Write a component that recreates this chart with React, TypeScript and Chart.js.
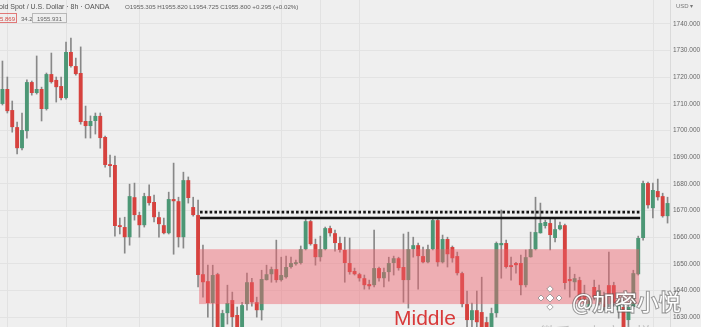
import React, { useEffect, useRef } from 'react';
import { Chart, registerables } from 'chart.js';
Chart.register(...registerables);

// OHLC per 8h candle (XAU/USD)
const opens = [
  1710.0, 1715.6, 1707.7, 1701.3, 1693.4, 1699.8, 1718.2, 1714.1, 1715.6, 1708.1,
  1721.2, 1719.0, 1716.7, 1712.2, 1729.5, 1724.2, 1721.6, 1703.6, 1701.7, 1703.6,
  1705.5, 1697.6, 1687.4, 1687.1, 1664.5, 1663.8, 1660.0, 1675.0, 1668.3, 1664.5,
  1675.4, 1673.2, 1667.5, 1664.5, 1661.5, 1674.3, 1673.5, 1660.0, 1681.4, 1671.3,
  1668.3, 1646.1, 1643.5, 1635.3, 1646.1, 1625.1, 1631.5, 1636.4, 1630.8, 1625.1,
  1634.9, 1643.1, 1635.6, 1632.6, 1643.9, 1646.1, 1648.0, 1643.9, 1645.0, 1648.8,
  1649.9, 1650.3, 1655.5, 1666.0, 1657.4, 1652.5, 1655.5, 1663.4, 1661.5, 1657.8,
  1655.2, 1650.3, 1647.3, 1646.1, 1644.6, 1642.4, 1642.0, 1648.4, 1644.6, 1646.9,
  1650.3, 1652.1, 1648.8, 1643.9, 1655.5, 1657.0, 1652.9, 1650.6, 1655.5, 1666.4,
  1650.6, 1659.3, 1656.3, 1652.9, 1646.5, 1634.9, 1628.9, 1632.6, 1631.9, 1628.1,
  1624.4, 1631.5, 1657.0, 1657.8, 1649.5, 1650.3, 1650.3, 1642.0, 1652.5, 1655.5,
  1661.5, 1664.2, 1665.3, 1659.7, 1663.0, 1664.5, 1644.3, 1643.1, 1643.9, 1638.3,
  1633.8, 1641.3, 1635.6, 1637.5, 1642.0, 1642.0, 1632.6, 1633.8, 1628.9, 1633.8,
  1646.1, 1659.7, 1680.3, 1670.9, 1677.3, 1675.4, 1667.9,
];
const highs = [
  1726.1, 1720.1, 1711.1, 1703.2, 1706.6, 1719.0, 1718.6, 1728.0, 1716.3, 1721.6,
  1729.1, 1720.1, 1720.1, 1733.2, 1734.7, 1727.2, 1731.4, 1709.2, 1705.5, 1706.6,
  1706.6, 1697.9, 1690.8, 1690.4, 1667.2, 1667.5, 1679.9, 1680.3, 1669.4, 1676.5,
  1679.6, 1675.8, 1669.4, 1667.2, 1676.9, 1687.8, 1675.0, 1684.4, 1682.6, 1675.0,
  1673.9, 1657.0, 1649.5, 1649.5, 1646.5, 1632.6, 1642.0, 1639.4, 1633.8, 1635.6,
  1646.5, 1644.6, 1637.5, 1647.6, 1649.5, 1648.8, 1658.9, 1652.5, 1652.9, 1652.5,
  1651.4, 1656.7, 1667.2, 1666.4, 1659.3, 1660.4, 1663.8, 1664.2, 1662.7, 1660.0,
  1660.0, 1659.7, 1648.4, 1646.5, 1645.8, 1643.9, 1662.7, 1648.8, 1648.4, 1652.5,
  1652.9, 1652.5, 1661.2, 1661.9, 1660.0, 1657.8, 1656.3, 1657.0, 1667.2, 1667.2,
  1660.8, 1660.0, 1656.7, 1654.4, 1646.9, 1639.8, 1635.3, 1639.8, 1645.0, 1630.0,
  1633.4, 1658.2, 1670.2, 1658.9, 1652.5, 1650.6, 1653.3, 1655.2, 1661.9, 1675.0,
  1672.8, 1666.4, 1666.8, 1666.8, 1665.7, 1664.9, 1648.8, 1646.1, 1645.0, 1642.0,
  1637.1, 1643.9, 1642.0, 1639.4, 1654.4, 1643.1, 1638.3, 1636.4, 1635.3, 1647.6,
  1660.4, 1681.1, 1680.7, 1680.3, 1681.8, 1676.5, 1675.0,
];
const lows = [
  1709.6, 1706.6, 1699.4, 1691.2, 1692.7, 1697.2, 1713.3, 1713.7, 1703.6, 1707.7,
  1717.8, 1710.7, 1711.5, 1711.8, 1723.8, 1720.8, 1702.4, 1697.2, 1697.2, 1698.7,
  1693.4, 1686.3, 1682.6, 1660.4, 1661.2, 1654.0, 1657.0, 1666.4, 1660.0, 1663.8,
  1672.0, 1665.7, 1660.0, 1661.2, 1661.2, 1653.6, 1656.3, 1655.9, 1672.8, 1667.9,
  1641.3, 1637.5, 1630.0, 1625.1, 1621.0, 1623.0, 1627.4, 1626.2, 1623.0, 1623.0,
  1632.6, 1634.1, 1630.0, 1628.9, 1643.9, 1643.1, 1643.1, 1643.5, 1644.6, 1648.4,
  1649.5, 1649.9, 1655.2, 1657.0, 1649.5, 1651.0, 1655.2, 1660.4, 1654.8, 1654.4,
  1643.1, 1646.1, 1645.8, 1643.5, 1640.5, 1640.5, 1641.3, 1643.5, 1641.3, 1643.5,
  1645.8, 1647.6, 1635.6, 1633.4, 1652.5, 1640.5, 1650.3, 1650.3, 1655.2, 1649.1,
  1650.3, 1648.8, 1650.6, 1645.8, 1633.8, 1626.2, 1626.2, 1625.1, 1622.9, 1622.0,
  1623.0, 1630.0, 1644.6, 1648.4, 1643.9, 1646.5, 1638.3, 1641.3, 1652.5, 1655.2,
  1661.5, 1663.4, 1655.2, 1658.2, 1662.7, 1640.5, 1637.5, 1640.1, 1635.3, 1635.3,
  1632.6, 1636.4, 1634.5, 1632.6, 1633.8, 1634.1, 1629.6, 1623.0, 1625.1, 1633.0,
  1645.8, 1658.9, 1670.9, 1667.2, 1673.9, 1667.5, 1665.3,
];
const closes = [
  1715.6, 1707.3, 1701.3, 1693.4, 1700.2, 1718.2, 1714.1, 1715.6, 1708.1, 1721.2,
  1718.2, 1716.3, 1712.2, 1729.5, 1724.2, 1721.2, 1703.2, 1701.7, 1703.6, 1705.5,
  1697.2, 1687.1, 1686.7, 1664.2, 1663.8, 1660.0, 1675.4, 1668.3, 1664.5, 1675.4,
  1672.8, 1667.5, 1664.9, 1661.5, 1674.3, 1673.5, 1660.0, 1681.4, 1674.7, 1668.3,
  1645.8, 1643.1, 1635.3, 1645.8, 1623.2, 1631.5, 1635.3, 1630.0, 1625.1, 1634.5,
  1643.1, 1635.6, 1632.6, 1644.3, 1646.1, 1648.0, 1643.9, 1645.8, 1648.8, 1650.3,
  1650.6, 1655.5, 1666.0, 1657.4, 1652.5, 1655.5, 1663.4, 1661.5, 1657.8, 1655.2,
  1650.3, 1646.9, 1646.1, 1644.6, 1642.0, 1641.6, 1648.4, 1644.6, 1646.9, 1650.3,
  1652.1, 1648.4, 1643.9, 1655.5, 1657.0, 1652.9, 1650.6, 1655.5, 1666.4, 1650.6,
  1659.3, 1653.6, 1652.1, 1646.5, 1634.9, 1628.9, 1632.6, 1628.1, 1624.4, 1623.2,
  1631.5, 1657.8, 1657.8, 1648.8, 1648.8, 1649.5, 1642.0, 1652.5, 1655.5, 1661.9,
  1665.3, 1665.7, 1660.8, 1663.0, 1664.5, 1642.8, 1643.5, 1644.6, 1636.4, 1635.6,
  1636.4, 1637.5, 1640.1, 1633.8, 1638.3, 1635.3, 1636.4, 1625.1, 1633.8, 1646.5,
  1659.7, 1680.3, 1672.0, 1677.7, 1675.0, 1667.9, 1672.8,
];
const categories = opens.map((_, i) => `K${i + 1}`);
const yTickValues = [1630, 1640, 1650, 1660, 1670, 1680, 1690, 1700, 1710, 1720, 1730, 1740];
const yMin = 1626.3;
const yMax = 1749.0;

// annotations (price levels and candle-index spans)
const zoneTop = 1655.5;
const zoneBottom = 1634.9;
const zoneFrom = 40.2;
const zoneTo = 130.2;
const solidLevel = 1667.2;
const dottedLevel = 1669.4;
const levelFrom = 40.4;
const levelTo = 130.4;
const verticalGridAt = [1, 13, 28, 57, 65, 73, 133];

const header1 = 'old Spot / U.S. Dollar · 8h · OANDA';
const header2 = 'O1955.305 H1955.820 L1954.725 C1955.800 +0.295 (+0.02%)';
const boxA = '5.869';
const midText = '34.2';
const boxB = '1955.931';
const zoneLabel = 'Middle';
const watermark = '@加密小悦';
const watermark2 = '微币  @加密小悦';

const GREEN = '#4c9775';
const RED = '#d6423e';
const WICK = '#888888';

function idxToX(scale: any, v: number) {
  const a = scale.getPixelForValue(0);
  const b = scale.getPixelForValue(1);
  return a + (b - a) * v;
}

const overlayPlugin = {
  id: 'overlay',
  beforeDatasetsDraw(chart: any) {
    const { ctx, chartArea: ca, scales } = chart;
    const x = scales.x;
    ctx.save();
    ctx.strokeStyle = '#e2e2e2';
    ctx.lineWidth = 1;
    verticalGridAt.forEach((i) => {
      const px = Math.round(idxToX(x, i)) + 0.5;
      ctx.beginPath();
      ctx.moveTo(px, ca.top);
      ctx.lineTo(px, ca.bottom);
      ctx.stroke();
    });
    ctx.restore();
  },
  afterDatasetsDraw(chart: any) {
    const { ctx, chartArea: ca, scales } = chart;
    const x = scales.x;
    const y = scales.y;
    ctx.save();
    ctx.beginPath();
    ctx.rect(ca.left, ca.top, ca.right - ca.left, ca.bottom - ca.top);
    ctx.clip();
    const zx1 = idxToX(x, zoneFrom);
    const zx2 = idxToX(x, zoneTo);
    const zy1 = y.getPixelForValue(zoneTop);
    const zy2 = y.getPixelForValue(zoneBottom);
    ctx.fillStyle = 'rgba(238, 96, 106, 0.45)';
    ctx.fillRect(zx1, zy1, zx2 - zx1, zy2 - zy1);
    const lx1 = idxToX(x, levelFrom);
    const lx2 = idxToX(x, levelTo);
    ctx.strokeStyle = '#151515';
    ctx.lineWidth = 2.6;
    ctx.beginPath();
    ctx.moveTo(lx1, y.getPixelForValue(solidLevel));
    ctx.lineTo(lx2, y.getPixelForValue(solidLevel));
    ctx.stroke();
    ctx.setLineDash([2.6, 2.2]);
    ctx.beginPath();
    ctx.moveTo(lx1, y.getPixelForValue(dottedLevel));
    ctx.lineTo(lx2, y.getPixelForValue(dottedLevel));
    ctx.stroke();
    ctx.setLineDash([]);
    ctx.restore();
  },
  afterDraw(chart: any) {
    const { ctx } = chart;
    ctx.save();
    ctx.textBaseline = 'alphabetic';
    ctx.fillStyle = '#505050';
    ctx.font = '7px "Liberation Sans", Arial, sans-serif';
    ctx.fillText(header1, -1, 9);
    ctx.font = '6.2px "Liberation Sans", Arial, sans-serif';
    ctx.fillStyle = '#606060';
    ctx.fillText(header2, 125, 9);
    ctx.font = '6px "Liberation Sans", Arial, sans-serif';
    ctx.strokeStyle = 'rgba(220,70,70,0.7)';
    ctx.lineWidth = 1;
    ctx.strokeRect(-2.5, 13.5, 19, 9);
    ctx.fillStyle = '#d44a44';
    ctx.fillText(boxA, 0, 20.5);
    ctx.fillStyle = '#666';
    ctx.fillText(midText, 21, 20.5);
    ctx.strokeStyle = '#b8b8b8';
    ctx.strokeRect(32.5, 13.5, 34, 9);
    ctx.fillText(boxB, 37, 20.5);
    ctx.fillStyle = '#777';
    ctx.font = '6px "Liberation Sans", Arial, sans-serif';
    ctx.fillText('USD ▾', 676, 8);

    ctx.fillStyle = '#d83a3a';
    ctx.font = '21px "Liberation Sans", Arial, sans-serif';
    ctx.fillText(zoneLabel, 394, 325);

    const cx = 550;
    const cy = 298;
    const diamond = (px: number, py: number, r: number) => {
      ctx.beginPath();
      ctx.moveTo(px, py - r);
      ctx.lineTo(px + r, py);
      ctx.lineTo(px, py + r);
      ctx.lineTo(px - r, py);
      ctx.closePath();
      ctx.fill();
      ctx.stroke();
    };
    ctx.fillStyle = '#ffffff';
    ctx.strokeStyle = 'rgba(110,110,110,0.6)';
    ctx.lineWidth = 1;
    diamond(cx, cy, 4);
    diamond(cx - 9, cy, 3);
    diamond(cx + 9, cy, 3);
    diamond(cx, cy - 9, 3.2);
    diamond(cx, cy + 9, 3.2);

    ctx.font = '22px "Noto Sans CJK SC", sans-serif';
    ctx.lineWidth = 2.2;
    ctx.strokeStyle = 'rgba(95,95,95,0.6)';
    ctx.strokeText(watermark, 572, 310);
    ctx.fillStyle = '#ffffff';
    ctx.fillText(watermark, 572, 310);

    ctx.font = '15px "Noto Sans CJK SC", sans-serif';
    ctx.fillStyle = 'rgba(160,160,160,0.6)';
    ctx.fillText(watermark2, 540, 338);
    ctx.restore();
  },
};

export default function App() {
  const ref = useRef<HTMLCanvasElement | null>(null);

  useEffect(() => {
    document.body.style.margin = '0';
    const canvas = ref.current;
    if (!canvas) return;
    const bodyColors = opens.map((o, i) => (closes[i] >= o ? GREEN : RED));
    const chart = new Chart(canvas, {
      type: 'bar',
      data: {
        labels: categories,
        datasets: [
          {
            label: 'body',
            data: opens.map((o, i) => [o, closes[i]]) as any,
            backgroundColor: bodyColors,
            borderWidth: 0,
            barPercentage: 0.8,
            categoryPercentage: 1,
            grouped: false,
            minBarLength: 1,
            order: 0,
          } as any,
          {
            label: 'wick',
            data: lows.map((l, i) => [l, highs[i]]) as any,
            backgroundColor: WICK,
            borderWidth: 0,
            barThickness: 1,
            grouped: false,
            order: 1,
          } as any,
        ],
      },
      options: {
        animation: false,
        responsive: false,
        maintainAspectRatio: false,
        layout: { padding: 0 },
        plugins: {
          legend: { display: false },
          tooltip: { enabled: false },
        },
        scales: {
          x: {
            type: 'category',
            display: false,
            offset: true,
          },
          y: {
            position: 'right',
            min: yMin,
            max: yMax,
            afterFit(scale: any) {
              scale.width = 31;
              scale.paddingTop = 0;
              scale.paddingBottom = 0;
            },
            afterBuildTicks(scale: any) {
              scale.ticks = yTickValues.map((v) => ({ value: v }));
            },
            ticks: {
              includeBounds: false,
              padding: 3,
              color: '#686868',
              font: { size: 6.5, family: '"Liberation Sans", Arial, sans-serif' },
              callback: (v: any) => Number(v).toFixed(3),
            },
            grid: {
              color: '#e3e3e3',
              drawTicks: false,
            },
            border: { display: true, color: '#dadada' },
          },
        },
      } as any,
      plugins: [overlayPlugin],
    });
    return () => chart.destroy();
  }, []);

  return (
    <div style={{ position: 'fixed', left: 0, top: 0, width: 701, height: 327, background: '#efefef' }}>
      <canvas ref={ref} width={701} height={327} style={{ display: 'block', width: 701, height: 327 }} />
    </div>
  );
}
